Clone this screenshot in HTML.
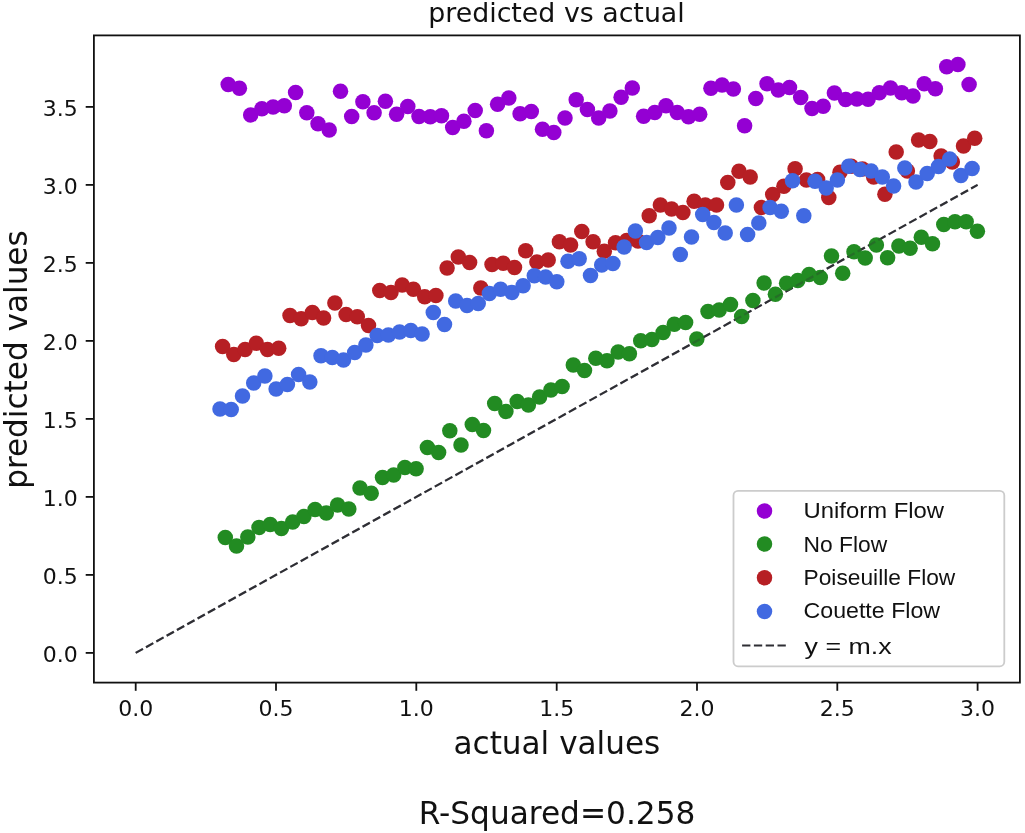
<!DOCTYPE html>
<html lang="en">
<head>
<meta charset="utf-8">
<title>predicted vs actual</title>
<style>
html,body{margin:0;padding:0;background:#fff;}
body{width:1025px;height:833px;overflow:hidden;}
svg{display:block;}
.dv{font-family:"DejaVu Sans","Liberation Sans",sans-serif;fill:#111;}
.lg{font-family:"Liberation Sans",sans-serif;fill:#111;}
</style>
</head>
<body>
<svg width="1025" height="833" viewBox="0 0 1025 833">
<rect x="0" y="0" width="1025" height="833" fill="#ffffff"/>
<line x1="135.7" y1="652.9" x2="977.6" y2="184.9" stroke="#2e2e34" stroke-width="2.2" stroke-dasharray="8.3 3.5"/>
<g fill="#9400d3">
<circle cx="228.2" cy="84.5" r="7.75"/>
<circle cx="239.4" cy="88.2" r="7.75"/>
<circle cx="250.7" cy="114.9" r="7.75"/>
<circle cx="261.9" cy="108.7" r="7.75"/>
<circle cx="273.1" cy="106.9" r="7.75"/>
<circle cx="284.3" cy="105.7" r="7.75"/>
<circle cx="295.6" cy="92.4" r="7.75"/>
<circle cx="306.8" cy="112.7" r="7.75"/>
<circle cx="318.0" cy="123.7" r="7.75"/>
<circle cx="329.2" cy="129.9" r="7.75"/>
<circle cx="340.5" cy="91.2" r="7.75"/>
<circle cx="351.7" cy="116.4" r="7.75"/>
<circle cx="362.9" cy="101.7" r="7.75"/>
<circle cx="374.1" cy="112.7" r="7.75"/>
<circle cx="385.4" cy="101.2" r="7.75"/>
<circle cx="396.6" cy="114.2" r="7.75"/>
<circle cx="407.8" cy="106.4" r="7.75"/>
<circle cx="419.0" cy="116.4" r="7.75"/>
<circle cx="430.3" cy="116.7" r="7.75"/>
<circle cx="441.5" cy="115.7" r="7.75"/>
<circle cx="452.7" cy="127.4" r="7.75"/>
<circle cx="463.9" cy="121.2" r="7.75"/>
<circle cx="475.2" cy="110.4" r="7.75"/>
<circle cx="486.4" cy="130.7" r="7.75"/>
<circle cx="497.6" cy="104.2" r="7.75"/>
<circle cx="508.8" cy="97.9" r="7.75"/>
<circle cx="520.1" cy="113.7" r="7.75"/>
<circle cx="531.3" cy="111.4" r="7.75"/>
<circle cx="542.5" cy="129.2" r="7.75"/>
<circle cx="553.8" cy="132.4" r="7.75"/>
<circle cx="565.0" cy="117.9" r="7.75"/>
<circle cx="576.2" cy="99.7" r="7.75"/>
<circle cx="587.4" cy="109.4" r="7.75"/>
<circle cx="598.7" cy="117.9" r="7.75"/>
<circle cx="609.9" cy="110.9" r="7.75"/>
<circle cx="621.1" cy="97.2" r="7.75"/>
<circle cx="632.3" cy="88.0" r="7.75"/>
<circle cx="643.6" cy="116.2" r="7.75"/>
<circle cx="654.8" cy="112.4" r="7.75"/>
<circle cx="666.0" cy="105.7" r="7.75"/>
<circle cx="677.2" cy="112.4" r="7.75"/>
<circle cx="688.5" cy="116.7" r="7.75"/>
<circle cx="699.7" cy="114.2" r="7.75"/>
<circle cx="710.9" cy="88.2" r="7.75"/>
<circle cx="722.1" cy="84.9" r="7.75"/>
<circle cx="733.4" cy="88.9" r="7.75"/>
<circle cx="744.6" cy="125.7" r="7.75"/>
<circle cx="755.8" cy="98.4" r="7.75"/>
<circle cx="767.0" cy="83.7" r="7.75"/>
<circle cx="778.3" cy="89.9" r="7.75"/>
<circle cx="789.5" cy="87.4" r="7.75"/>
<circle cx="800.7" cy="97.4" r="7.75"/>
<circle cx="812.0" cy="108.4" r="7.75"/>
<circle cx="823.2" cy="106.2" r="7.75"/>
<circle cx="834.4" cy="92.9" r="7.75"/>
<circle cx="845.6" cy="99.4" r="7.75"/>
<circle cx="856.9" cy="98.9" r="7.75"/>
<circle cx="868.1" cy="99.3" r="7.75"/>
<circle cx="879.3" cy="92.7" r="7.75"/>
<circle cx="890.5" cy="88.0" r="7.75"/>
<circle cx="901.8" cy="92.8" r="7.75"/>
<circle cx="913.0" cy="96.1" r="7.75"/>
<circle cx="924.2" cy="83.7" r="7.75"/>
<circle cx="935.4" cy="88.8" r="7.75"/>
<circle cx="946.7" cy="66.7" r="7.75"/>
<circle cx="957.9" cy="64.6" r="7.75"/>
<circle cx="969.1" cy="84.4" r="7.75"/>
</g>
<g fill="#228b22">
<circle cx="225.3" cy="537.4" r="7.75"/>
<circle cx="236.5" cy="546.1" r="7.75"/>
<circle cx="247.8" cy="536.9" r="7.75"/>
<circle cx="259.0" cy="527.4" r="7.75"/>
<circle cx="270.2" cy="524.4" r="7.75"/>
<circle cx="281.4" cy="528.6" r="7.75"/>
<circle cx="292.7" cy="521.9" r="7.75"/>
<circle cx="303.9" cy="516.4" r="7.75"/>
<circle cx="315.1" cy="509.4" r="7.75"/>
<circle cx="326.3" cy="512.9" r="7.75"/>
<circle cx="337.6" cy="504.9" r="7.75"/>
<circle cx="348.8" cy="509.1" r="7.75"/>
<circle cx="360.0" cy="487.9" r="7.75"/>
<circle cx="371.2" cy="493.2" r="7.75"/>
<circle cx="382.5" cy="477.4" r="7.75"/>
<circle cx="393.7" cy="474.9" r="7.75"/>
<circle cx="404.9" cy="467.4" r="7.75"/>
<circle cx="416.1" cy="468.7" r="7.75"/>
<circle cx="427.4" cy="447.5" r="7.75"/>
<circle cx="438.6" cy="452.6" r="7.75"/>
<circle cx="449.8" cy="430.8" r="7.75"/>
<circle cx="461.0" cy="444.9" r="7.75"/>
<circle cx="472.3" cy="424.4" r="7.75"/>
<circle cx="483.5" cy="430.4" r="7.75"/>
<circle cx="494.7" cy="403.4" r="7.75"/>
<circle cx="505.9" cy="411.4" r="7.75"/>
<circle cx="517.2" cy="401.6" r="7.75"/>
<circle cx="528.4" cy="404.9" r="7.75"/>
<circle cx="539.6" cy="396.9" r="7.75"/>
<circle cx="550.9" cy="389.9" r="7.75"/>
<circle cx="562.1" cy="386.4" r="7.75"/>
<circle cx="573.3" cy="364.9" r="7.75"/>
<circle cx="584.5" cy="370.4" r="7.75"/>
<circle cx="595.8" cy="358.2" r="7.75"/>
<circle cx="607.0" cy="360.7" r="7.75"/>
<circle cx="618.2" cy="351.9" r="7.75"/>
<circle cx="629.4" cy="353.7" r="7.75"/>
<circle cx="640.7" cy="340.7" r="7.75"/>
<circle cx="651.9" cy="339.5" r="7.75"/>
<circle cx="663.1" cy="332.4" r="7.75"/>
<circle cx="674.3" cy="324.3" r="7.75"/>
<circle cx="685.6" cy="322.5" r="7.75"/>
<circle cx="696.8" cy="339.1" r="7.75"/>
<circle cx="708.0" cy="311.4" r="7.75"/>
<circle cx="719.2" cy="310.1" r="7.75"/>
<circle cx="730.5" cy="304.4" r="7.75"/>
<circle cx="741.7" cy="316.6" r="7.75"/>
<circle cx="752.9" cy="300.6" r="7.75"/>
<circle cx="764.1" cy="282.9" r="7.75"/>
<circle cx="775.4" cy="294.2" r="7.75"/>
<circle cx="786.6" cy="283.2" r="7.75"/>
<circle cx="797.8" cy="280.4" r="7.75"/>
<circle cx="809.1" cy="274.4" r="7.75"/>
<circle cx="820.3" cy="277.4" r="7.75"/>
<circle cx="831.5" cy="255.9" r="7.75"/>
<circle cx="842.7" cy="273.2" r="7.75"/>
<circle cx="854.0" cy="251.7" r="7.75"/>
<circle cx="865.2" cy="257.9" r="7.75"/>
<circle cx="876.4" cy="245.1" r="7.75"/>
<circle cx="887.6" cy="257.8" r="7.75"/>
<circle cx="898.9" cy="246.0" r="7.75"/>
<circle cx="910.1" cy="248.3" r="7.75"/>
<circle cx="921.3" cy="237.3" r="7.75"/>
<circle cx="932.5" cy="243.7" r="7.75"/>
<circle cx="943.8" cy="224.4" r="7.75"/>
<circle cx="955.0" cy="221.7" r="7.75"/>
<circle cx="966.2" cy="221.7" r="7.75"/>
<circle cx="977.4" cy="231.3" r="7.75"/>
</g>
<g fill="#b61f24">
<circle cx="222.6" cy="346.4" r="7.75"/>
<circle cx="233.8" cy="354.4" r="7.75"/>
<circle cx="245.1" cy="349.4" r="7.75"/>
<circle cx="256.3" cy="343.2" r="7.75"/>
<circle cx="267.5" cy="349.4" r="7.75"/>
<circle cx="278.7" cy="348.2" r="7.75"/>
<circle cx="290.0" cy="315.5" r="7.75"/>
<circle cx="301.2" cy="318.7" r="7.75"/>
<circle cx="312.4" cy="312.5" r="7.75"/>
<circle cx="323.6" cy="318.0" r="7.75"/>
<circle cx="334.9" cy="303.0" r="7.75"/>
<circle cx="346.1" cy="314.5" r="7.75"/>
<circle cx="357.3" cy="316.7" r="7.75"/>
<circle cx="368.5" cy="325.4" r="7.75"/>
<circle cx="379.8" cy="290.5" r="7.75"/>
<circle cx="391.0" cy="292.5" r="7.75"/>
<circle cx="402.2" cy="285.0" r="7.75"/>
<circle cx="413.4" cy="289.2" r="7.75"/>
<circle cx="424.7" cy="296.7" r="7.75"/>
<circle cx="435.9" cy="295.5" r="7.75"/>
<circle cx="447.1" cy="267.9" r="7.75"/>
<circle cx="458.3" cy="256.9" r="7.75"/>
<circle cx="469.6" cy="262.4" r="7.75"/>
<circle cx="480.8" cy="287.9" r="7.75"/>
<circle cx="492.0" cy="264.4" r="7.75"/>
<circle cx="503.2" cy="263.2" r="7.75"/>
<circle cx="514.5" cy="267.4" r="7.75"/>
<circle cx="525.7" cy="250.7" r="7.75"/>
<circle cx="536.9" cy="261.9" r="7.75"/>
<circle cx="548.2" cy="259.9" r="7.75"/>
<circle cx="559.4" cy="241.7" r="7.75"/>
<circle cx="570.6" cy="244.9" r="7.75"/>
<circle cx="581.8" cy="231.5" r="7.75"/>
<circle cx="593.1" cy="241.7" r="7.75"/>
<circle cx="604.3" cy="251.2" r="7.75"/>
<circle cx="615.5" cy="242.7" r="7.75"/>
<circle cx="626.7" cy="240.6" r="7.75"/>
<circle cx="638.0" cy="241.0" r="7.75"/>
<circle cx="649.2" cy="215.7" r="7.75"/>
<circle cx="660.4" cy="205.0" r="7.75"/>
<circle cx="671.6" cy="209.0" r="7.75"/>
<circle cx="682.9" cy="212.4" r="7.75"/>
<circle cx="694.1" cy="201.2" r="7.75"/>
<circle cx="705.3" cy="205.0" r="7.75"/>
<circle cx="716.5" cy="204.9" r="7.75"/>
<circle cx="727.8" cy="182.4" r="7.75"/>
<circle cx="739.0" cy="171.2" r="7.75"/>
<circle cx="750.2" cy="176.9" r="7.75"/>
<circle cx="761.4" cy="207.4" r="7.75"/>
<circle cx="772.7" cy="194.4" r="7.75"/>
<circle cx="783.9" cy="186.2" r="7.75"/>
<circle cx="795.1" cy="168.7" r="7.75"/>
<circle cx="806.4" cy="179.9" r="7.75"/>
<circle cx="817.6" cy="179.4" r="7.75"/>
<circle cx="828.8" cy="197.5" r="7.75"/>
<circle cx="840.0" cy="172.2" r="7.75"/>
<circle cx="851.3" cy="166.3" r="7.75"/>
<circle cx="862.5" cy="169.0" r="7.75"/>
<circle cx="873.7" cy="177.0" r="7.75"/>
<circle cx="884.9" cy="194.3" r="7.75"/>
<circle cx="896.2" cy="152.0" r="7.75"/>
<circle cx="907.4" cy="171.0" r="7.75"/>
<circle cx="918.6" cy="140.0" r="7.75"/>
<circle cx="929.8" cy="141.5" r="7.75"/>
<circle cx="941.1" cy="156.0" r="7.75"/>
<circle cx="952.3" cy="162.0" r="7.75"/>
<circle cx="963.5" cy="146.0" r="7.75"/>
<circle cx="974.7" cy="138.2" r="7.75"/>
</g>
<g fill="#4169e1">
<circle cx="220.0" cy="408.9" r="7.75"/>
<circle cx="231.2" cy="409.4" r="7.75"/>
<circle cx="242.5" cy="396.1" r="7.75"/>
<circle cx="253.7" cy="382.9" r="7.75"/>
<circle cx="264.9" cy="375.9" r="7.75"/>
<circle cx="276.1" cy="388.9" r="7.75"/>
<circle cx="287.4" cy="384.4" r="7.75"/>
<circle cx="298.6" cy="374.4" r="7.75"/>
<circle cx="309.8" cy="381.9" r="7.75"/>
<circle cx="321.0" cy="355.7" r="7.75"/>
<circle cx="332.3" cy="357.4" r="7.75"/>
<circle cx="343.5" cy="359.9" r="7.75"/>
<circle cx="354.7" cy="352.4" r="7.75"/>
<circle cx="365.9" cy="344.9" r="7.75"/>
<circle cx="377.2" cy="335.4" r="7.75"/>
<circle cx="388.4" cy="334.9" r="7.75"/>
<circle cx="399.6" cy="331.9" r="7.75"/>
<circle cx="410.8" cy="330.4" r="7.75"/>
<circle cx="422.1" cy="333.9" r="7.75"/>
<circle cx="433.3" cy="312.5" r="7.75"/>
<circle cx="444.5" cy="324.6" r="7.75"/>
<circle cx="455.7" cy="301.1" r="7.75"/>
<circle cx="467.0" cy="305.4" r="7.75"/>
<circle cx="478.2" cy="303.6" r="7.75"/>
<circle cx="489.4" cy="293.6" r="7.75"/>
<circle cx="500.6" cy="289.2" r="7.75"/>
<circle cx="511.9" cy="292.4" r="7.75"/>
<circle cx="523.1" cy="285.7" r="7.75"/>
<circle cx="534.3" cy="275.7" r="7.75"/>
<circle cx="545.6" cy="276.9" r="7.75"/>
<circle cx="556.8" cy="281.7" r="7.75"/>
<circle cx="568.0" cy="261.2" r="7.75"/>
<circle cx="579.2" cy="258.7" r="7.75"/>
<circle cx="590.5" cy="275.4" r="7.75"/>
<circle cx="601.7" cy="264.9" r="7.75"/>
<circle cx="612.9" cy="263.4" r="7.75"/>
<circle cx="624.1" cy="246.9" r="7.75"/>
<circle cx="635.4" cy="231.1" r="7.75"/>
<circle cx="646.6" cy="242.4" r="7.75"/>
<circle cx="657.8" cy="237.4" r="7.75"/>
<circle cx="669.0" cy="228.1" r="7.75"/>
<circle cx="680.3" cy="254.6" r="7.75"/>
<circle cx="691.5" cy="236.9" r="7.75"/>
<circle cx="702.7" cy="214.4" r="7.75"/>
<circle cx="713.9" cy="222.4" r="7.75"/>
<circle cx="725.2" cy="232.9" r="7.75"/>
<circle cx="736.4" cy="204.9" r="7.75"/>
<circle cx="747.6" cy="234.4" r="7.75"/>
<circle cx="758.8" cy="222.9" r="7.75"/>
<circle cx="770.1" cy="207.4" r="7.75"/>
<circle cx="781.3" cy="211.2" r="7.75"/>
<circle cx="792.5" cy="180.7" r="7.75"/>
<circle cx="803.8" cy="215.7" r="7.75"/>
<circle cx="815.0" cy="181.2" r="7.75"/>
<circle cx="826.2" cy="187.9" r="7.75"/>
<circle cx="837.4" cy="180.1" r="7.75"/>
<circle cx="848.7" cy="166.3" r="7.75"/>
<circle cx="859.9" cy="169.6" r="7.75"/>
<circle cx="871.1" cy="171.0" r="7.75"/>
<circle cx="882.3" cy="177.0" r="7.75"/>
<circle cx="893.6" cy="186.0" r="7.75"/>
<circle cx="904.8" cy="168.0" r="7.75"/>
<circle cx="916.0" cy="182.0" r="7.75"/>
<circle cx="927.2" cy="173.6" r="7.75"/>
<circle cx="938.5" cy="166.6" r="7.75"/>
<circle cx="949.7" cy="159.0" r="7.75"/>
<circle cx="960.9" cy="175.4" r="7.75"/>
<circle cx="972.1" cy="168.6" r="7.75"/>
</g>
<line x1="135.7" y1="652.9" x2="977.6" y2="184.9" stroke="#2e2e34" stroke-width="2.2" stroke-dasharray="8.3 3.5" stroke-opacity="0.3"/>
<rect x="93.9" y="35.4" width="926.0" height="647.2" fill="none" stroke="#111" stroke-width="1.8"/>
<g stroke="#111" stroke-width="1.8">
<line x1="135.7" y1="682.6" x2="135.7" y2="690.8"/>
<line x1="276.0" y1="682.6" x2="276.0" y2="690.8"/>
<line x1="416.3" y1="682.6" x2="416.3" y2="690.8"/>
<line x1="556.7" y1="682.6" x2="556.7" y2="690.8"/>
<line x1="697.0" y1="682.6" x2="697.0" y2="690.8"/>
<line x1="837.3" y1="682.6" x2="837.3" y2="690.8"/>
<line x1="977.6" y1="682.6" x2="977.6" y2="690.8"/>
<line x1="85.7" y1="652.9" x2="93.9" y2="652.9"/>
<line x1="85.7" y1="574.9" x2="93.9" y2="574.9"/>
<line x1="85.7" y1="496.9" x2="93.9" y2="496.9"/>
<line x1="85.7" y1="418.9" x2="93.9" y2="418.9"/>
<line x1="85.7" y1="340.9" x2="93.9" y2="340.9"/>
<line x1="85.7" y1="262.9" x2="93.9" y2="262.9"/>
<line x1="85.7" y1="184.9" x2="93.9" y2="184.9"/>
<line x1="85.7" y1="106.9" x2="93.9" y2="106.9"/>
</g>
<g class="dv" font-size="22.0">
<text x="135.7" y="715.5" text-anchor="middle">0.0</text>
<text x="276.0" y="715.5" text-anchor="middle">0.5</text>
<text x="416.3" y="715.5" text-anchor="middle">1.0</text>
<text x="556.7" y="715.5" text-anchor="middle">1.5</text>
<text x="697.0" y="715.5" text-anchor="middle">2.0</text>
<text x="837.3" y="715.5" text-anchor="middle">2.5</text>
<text x="977.6" y="715.5" text-anchor="middle">3.0</text>
<text x="77.8" y="661.5" text-anchor="end">0.0</text>
<text x="77.8" y="583.5" text-anchor="end">0.5</text>
<text x="77.8" y="505.5" text-anchor="end">1.0</text>
<text x="77.8" y="427.5" text-anchor="end">1.5</text>
<text x="77.8" y="349.5" text-anchor="end">2.0</text>
<text x="77.8" y="271.5" text-anchor="end">2.5</text>
<text x="77.8" y="193.5" text-anchor="end">3.0</text>
<text x="77.8" y="115.5" text-anchor="end">3.5</text>
</g>
<text class="dv" x="556.5" y="22.0" font-size="26.8" text-anchor="middle">predicted vs actual</text>
<text class="dv" x="556.9" y="753.9" font-size="31.1" text-anchor="middle">actual values</text>
<text class="dv" x="557.0" y="824.3" font-size="31.2" text-anchor="middle">R-Squared=0.258</text>
<text class="dv" transform="translate(27.0 359.6) rotate(-90)" font-size="31.1" text-anchor="middle">predicted values</text>
<rect x="733.5" y="490.9" width="270.8" height="175.4" rx="4.5" ry="4.5" fill="#ffffff" fill-opacity="0.8" stroke="#cccccc" stroke-width="1.8"/>
<circle cx="764.5" cy="511.1" r="7.75" fill="#9400d3"/>
<circle cx="764.5" cy="544.1" r="7.75" fill="#228b22"/>
<circle cx="764.5" cy="577.8" r="7.75" fill="#b61f24"/>
<circle cx="764.5" cy="611.5" r="7.75" fill="#4169e1"/>
<line x1="742.1" y1="645.5" x2="786.6" y2="645.5" stroke="#2e2e34" stroke-width="2.2" stroke-dasharray="8.3 3.5"/>
<g class="lg" font-size="21.8">
<text x="803.5" y="518.3" textLength="140.6" lengthAdjust="spacingAndGlyphs">Uniform Flow</text>
<text x="803.5" y="551.9" textLength="83.7" lengthAdjust="spacingAndGlyphs">No Flow</text>
<text x="803.5" y="584.9" textLength="151.8" lengthAdjust="spacingAndGlyphs">Poiseuille Flow</text>
<text x="803.5" y="617.6" textLength="136.6" lengthAdjust="spacingAndGlyphs">Couette Flow</text>
<text x="804.6" y="653.5" textLength="87.0" lengthAdjust="spacingAndGlyphs">y = m.x</text>
</g>
</svg>
</body>
</html>
